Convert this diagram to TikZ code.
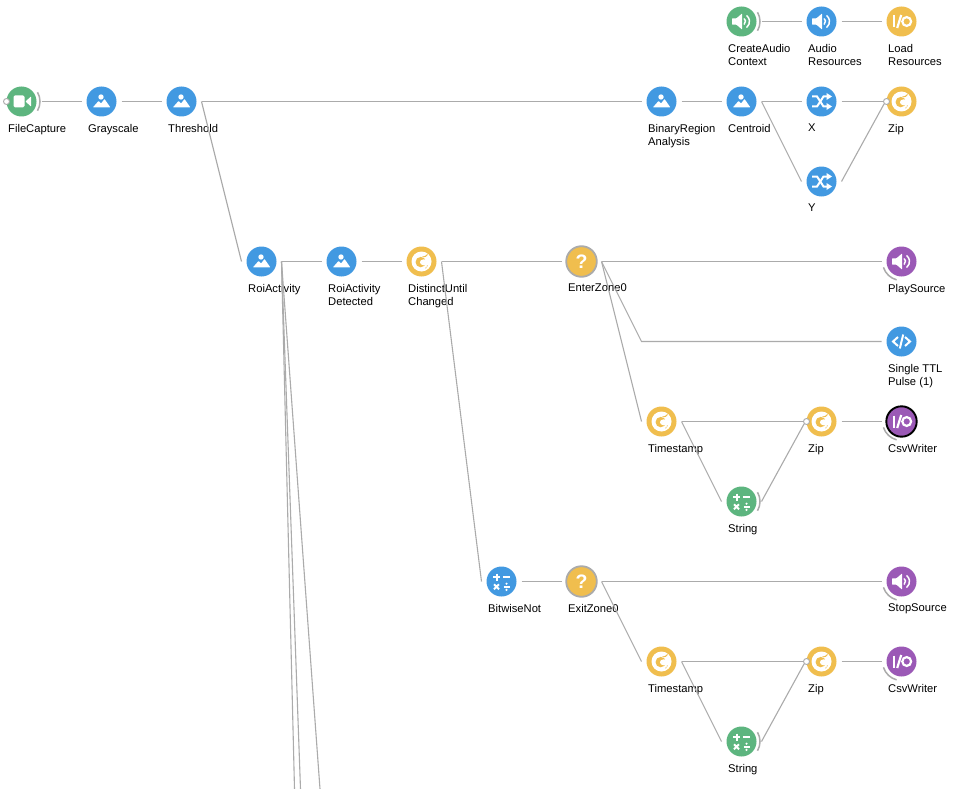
\documentclass[tikz,border=0pt]{standalone}
\usepackage{fontspec}
\setmainfont{Liberation Sans}
\definecolor{wfblue}{HTML}{4299E1}
\definecolor{wfgreen}{HTML}{5DB57F}
\definecolor{wfyellow}{HTML}{F0BE4E}
\definecolor{wfpurple}{HTML}{9B59B6}
\definecolor{wfgrey}{HTML}{ABABAB}
\newcommand\wfarc[5]{({#1+#3*cos(#4)},{#2-#3*sin(#4)}) arc[start angle=#4,end angle=#5,radius=#3 pt]}
\tikzset{
  wfnode/.style={circle,minimum size=30pt,inner sep=0pt,outer sep=5pt},
  wflabel/.style={anchor=north west,inner sep=0pt,align=left,text=black,
    font=\fontsize{11.2}{13}\selectfont},
  wire/.style={draw=wfgrey,line width=1.1pt},
  portdot/.style={circle,draw=wfgrey,fill=white,line width=0.9pt,minimum size=6pt,inner sep=0pt},
  srcarc/.style={draw=wfgrey,line width=1.5pt},
  icoline/.style={draw=white,line width=2pt},
  pics/icoimage/.style={code={
    \fill[white] (-0.5,-4.5) circle[radius=2.7pt];
    \fill[white,rounded corners=0.4pt] (-8.5,5.8) -- (-3,-0.5) -- (-0.5,2) -- (3,-2.5) -- (8.8,5.8) -- cycle;
  }},
  pics/icovideo/.style={code={
    \fill[white,rounded corners=1.5pt] (-8,-6) rectangle (3,6);
    \fill[white,rounded corners=0.5pt] (4,0) -- (9.5,-5) -- (9.5,5) -- cycle;
  }},
  pics/icospeaker/.style={code={
    \fill[white,rounded corners=0.6pt] (-9.5,-3.2) -- (-5,-3.2) -- (0.5,-8) -- (0.5,8) -- (-5,3.2) -- (-9.5,3.2) -- cycle;
    \draw[white,line width=1.5pt,line cap=round] \wfarc{0.5}{0}{3.5}{-50}{50};
    \draw[white,line width=1.5pt,line cap=round] \wfarc{0.5}{0}{7.5}{-50}{50};
  }},
  pics/icoshuffle/.style={code={
    \draw[icoline] (-9.5,-5) -- (-4.5,-5) -- (2,5) -- (6,5);
    \draw[icoline] (-9.5,5) -- (-4.5,5) -- (2,-5) -- (6,-5);
    \fill[white] (5,-8.5) -- (10.5,-5) -- (5,-1.5) -- cycle;
    \fill[white] (5,1.5) -- (10.5,5) -- (5,8.5) -- cycle;
  }},
  pics/icoio/.style={code={
    \draw[white,line width=2.2pt] (-7.5,-6) -- (-7.5,6);
    \draw[white,line width=2.2pt] (-4.3,6.5) -- (-0.3,-6.5);
    \draw[white,line width=2.2pt] (5.2,0) circle[radius=4.4pt];
  }},
  pics/icorx/.style={code={
    \fill[white] (0,0) circle[radius=10pt];
    \fill[wfyellow] (-0.8,0.6) circle[radius=5.2pt];
    \fill[white] (2.2,0.8) ellipse[x radius=3.8pt,y radius=3pt];
    \draw[wfyellow,line width=1pt] (1,-4.5) -- (4,-5.2) -- (6,-7);
    \draw[wfyellow,line width=0.8pt,dash pattern=on 1.2pt off 1pt] (6,4) -- (4,7);
  }},
  pics/icocode/.style={code={
    \draw[icoline] (-3.5,-4.5) -- (-8.5,0) -- (-3.5,4.5);
    \draw[icoline] (3.5,-4.5) -- (8.5,0) -- (3.5,4.5);
    \draw[icoline] (1.7,-7) -- (-1.7,7);
  }},
  pics/icomath/.style={code={
    \draw[icoline] (-8.5,-4.5) -- (-1.5,-4.5) (-5,-8) -- (-5,-1);
    \draw[icoline] (1.5,-4.5) -- (8.5,-4.5);
    \draw[icoline] (-7.5,2.8) -- (-2.5,7.8) (-7.5,7.8) -- (-2.5,2.8);
    \draw[icoline] (2,5.3) -- (8,5.3);
    \fill[white] (5,2.2) circle[radius=1.2pt] (5,8.4) circle[radius=1.2pt];
  }},
  pics/icoq/.style={code={
    \node[text=white,inner sep=0pt,font=\fontsize{19.5}{20}\selectfont\bfseries] (q) at (0,0) {?};
  }},
}
% name, x, y, colour, icon, label
\newcommand\wf[6]{%
  \node[wfnode,fill=#4] (#1) at (#2+0.5,#3+0.5) {};
  \pic (#1-icon) at (#2+0.5,#3+0.5) {#5};
  \node[wflabel] (#1-label) at (#2-13,#3+22.8) {#6};
}
\newcommand\wfport[3]{\node[portdot] (#1) at (#2-14.5,#3+0.5) {};}
\begin{document}
\begin{tikzpicture}[x=1pt,y=-1pt]
\useasboundingbox[fill=white] (0,0) rectangle (953,789);
% row 21
\wf{cac}{741}{21}{wfgreen}{icospeaker}{CreateAudio\\Context}
\wf{ares}{821}{21}{wfblue}{icospeaker}{Audio\\Resources}
\wf{lres}{901}{21}{wfyellow}{icoio}{Load\\Resources}
% row 101
\wf{fc}{21}{101}{wfgreen}{icovideo}{FileCapture}
\wf{gray}{101}{101}{wfblue}{icoimage}{Grayscale}
\wf{thr}{181}{101}{wfblue}{icoimage}{Threshold}
\wf{bra}{661}{101}{wfblue}{icoimage}{BinaryRegion\\Analysis}
\wf{cen}{741}{101}{wfblue}{icoimage}{Centroid}
\wf{xn}{821}{101}{wfblue}{icoshuffle}{X}
\wf{zipa}{901}{101}{wfyellow}{icorx}{Zip}
\wf{yn}{821}{181}{wfblue}{icoshuffle}{Y}
% row 261
\wf{roi}{261}{261}{wfblue}{icoimage}{RoiActivity}
\wf{roid}{341}{261}{wfblue}{icoimage}{RoiActivity\\Detected}
\wf{dist}{421}{261}{wfyellow}{icorx}{DistinctUntil\\Changed}
\wf{enter}{581}{261}{wfyellow}{icoq}{EnterZone0}
\wf{play}{901}{261}{wfpurple}{icospeaker}{PlaySource}
\wf{ttl}{901}{341}{wfblue}{icocode}{Single TTL\\Pulse (1)}
% enter branch
\wf{tsa}{661}{421}{wfyellow}{icorx}{Timestamp}
\wf{zipb}{821}{421}{wfyellow}{icorx}{Zip}
\wf{csva}{901}{421}{wfpurple}{icoio}{CsvWriter}
\wf{stra}{741}{501}{wfgreen}{icomath}{String}
% exit branch
\wf{bit}{501}{581}{wfblue}{icomath}{BitwiseNot}
\wf{exit}{581}{581}{wfyellow}{icoq}{ExitZone0}
\wf{stop}{901}{581}{wfpurple}{icospeaker}{StopSource}
\wf{tsb}{661}{661}{wfyellow}{icorx}{Timestamp}
\wf{zipc}{821}{661}{wfyellow}{icorx}{Zip}
\wf{csvb}{901}{661}{wfpurple}{icoio}{CsvWriter}
\wf{strb}{741}{741}{wfgreen}{icomath}{String}
% rings
\draw[wfgrey,line width=1.8pt] (enter.center) circle[radius=15.3pt];
\draw[wfgrey,line width=1.8pt] (exit.center) circle[radius=15.3pt];
\draw[black,line width=1.9pt] (csva.center) circle[radius=15.2pt];
% source arcs
\draw[srcarc] \wfarc{21.5}{101.5}{18.5}{-30}{30};
\draw[srcarc] \wfarc{741.5}{21.5}{18.5}{-30}{30};
\draw[srcarc] \wfarc{741.5}{501.5}{18.5}{-30}{30};
\draw[srcarc] \wfarc{741.5}{741.5}{18.5}{-30}{30};
\draw[srcarc] \wfarc{901.5}{261.5}{19}{198}{255};
\draw[srcarc] \wfarc{901.5}{421.5}{19}{198}{255};
\draw[srcarc] \wfarc{901.5}{581.5}{19}{198}{255};
\draw[srcarc] \wfarc{901.5}{661.5}{19}{198}{255};
% input ports
\wfport{fcport}{21}{101}
\wfport{zipaport}{901}{101}
\wfport{zipbport}{821}{421}
\wfport{zipcport}{821}{661}
% free ends and bends
\coordinate (offa) at (294.5,789);
\coordinate (offb) at (300.5,789);
\coordinate (offc) at (320,789);
\coordinate (ttlbend) at (641.5,341.5);
% connectors
\draw[wire] (cac.east) -- (ares.west);
\draw[wire] (ares.east) -- (lres.west);
\draw[wire] (fc.east) -- (gray.west);
\draw[wire] (gray.east) -- (thr.west);
\draw[wire] (thr.east) -- (bra.west);
\draw[wire] (bra.east) -- (cen.west);
\draw[wire] (cen.east) -- (xn.west);
\draw[wire] (cen.east) -- (yn.west);
\draw[wire] (xn.east) -- (zipaport.west);
\draw[wire] (yn.east) -- (zipaport.south west);
\draw[wire] (thr.east) -- (roi.west);
\draw[wire] (roi.east) -- (roid.west);
\draw[wire] (roid.east) -- (dist.west);
\draw[wire] (roi.east) -- (offa);
\draw[wire] (roi.east) -- (offb);
\draw[wire] (roi.east) -- (offc);
\draw[wire] (dist.east) -- (enter.west);
\draw[wire] (dist.east) -- (bit.west);
\draw[wire] (enter.east) -- (play.west);
\draw[wire] (enter.east) -- (ttlbend) -- (ttl.west);
\draw[wire] (enter.east) -- (tsa.west);
\draw[wire] (tsa.east) -- (zipbport.west);
\draw[wire] (tsa.east) -- (stra.west);
\draw[wire] (stra.east) -- (zipbport.south west);
\draw[wire] (zipb.east) -- (csva.west);
\draw[wire] (bit.east) -- (exit.west);
\draw[wire] (exit.east) -- (stop.west);
\draw[wire] (exit.east) -- (tsb.west);
\draw[wire] (tsb.east) -- (zipcport.west);
\draw[wire] (tsb.east) -- (strb.west);
\draw[wire] (strb.east) -- (zipcport.south west);
\draw[wire] (zipc.east) -- (csvb.west);
\end{tikzpicture}
\end{document}
